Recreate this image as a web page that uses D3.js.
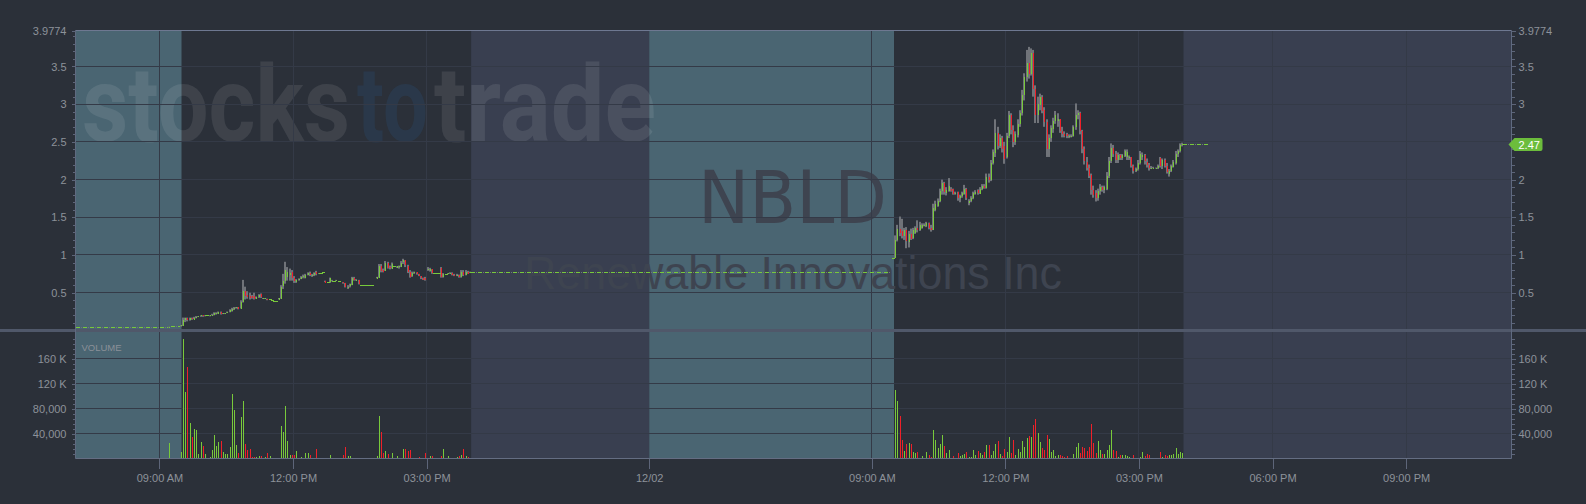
<!DOCTYPE html>
<html>
<head>
<meta charset="utf-8">
<script src="https://cdn.jsdelivr.net/npm/d3@7"></script>
<style>
	html, body {margin: 0; padding: 0; background: #2b3039; overflow: hidden;}
	svg {display: block;}
</style>
</head>
<body>
<svg id="chart" width="1586" height="504"></svg>
<script>
// time is kept in "trading hours": day 1 = clock hour - 4, day 2 = clock hour + 12
// (the overnight gap 8 PM - 4 AM is skipped)
const sessionEdges = [3.114, 5.5, 12, 16, 21.5, 28, 35.367]
const sessionKinds = ["pre", "reg", "post", "pre", "reg", "post"]
const sessionOpen = [5.5, 21.5]
const barHours = 0.05 // 3 minute bars

const timeTicks = [5, 8, 11, 16, 21, 24, 27, 30, 33]
const timeLabels = ["09:00 AM", "12:00 PM", "03:00 PM", "12/02", "09:00 AM", "12:00 PM", "03:00 PM", "06:00 PM", "09:00 PM"]

const priceTicks = [0.5, 1, 1.5, 2, 2.5, 3, 3.5, 3.9774]
const priceMax = 3.9774
const volumeTicks = [40000, 80000, 120000, 160000]
const volumeLabels = ["40,000", "80,000", "120 K", "160 K"]

const symbol = "NBLD"
const company = "Renewable Innovations Inc"
const brandParts = ["stocks", "to", "trade"]
const lastPrice = 2.47

// [bar index from 09:30, open, high, low, close, volume]
const day1Bars = [
	[-6, .045, .05, .045, .05, 24600], [-1, .05, .07, .05, .065, 10000],
	[0, .06, .17, .06, .14, 192000], [1, .14, .17, .11, .16, 107000], [2, .16, .17, .12, .13, 146000],
	[3, .13, .17, .13, .16, 56600], [4, .16, .17, .14, .15, 35000], [5, .15, .18, .15, .17, 47500],
	[6, .17, .19, .16, .18, 46000], [7, .18, .19, .18, .19, 7500], [8, .19, .20, .18, .20, 26000],
	[9, .20, .20, .18, .19, 20000], [10, .19, .20, .19, .20, 7500], [11, .20, .20, .20, .20, 0],
	[12, .19, .20, .19, .20, 3000], [13, .20, .22, .20, .21, 14000], [14, .21, .24, .20, .23, 38000],
	[15, .22, .24, .21, .23, 20000], [16, .22, .25, .22, .24, 26000], [17, .24, .25, .21, .22, 28000],
	[18, .22, .23, .22, .23, 11000], [19, .22, .23, .22, .23, 7500], [20, .23, .25, .23, .24, 7500],
	[21, .24, .28, .24, .27, 19000], [22, .27, .30, .25, .29, 103000], [23, .29, .31, .27, .30, 78000],
	[24, .30, .31, .29, .31, 22000], [25, .31, .31, .28, .29, 9000], [26, .29, .40, .29, .38, 67000],
	[27, .38, .67, .37, .52, 92000], [28, .52, .58, .41, .45, 23000], [29, .47, .52, .42, .44, 14000],
	[30, .46, .50, .41, .43, 15500], [31, .45, .47, .42, .43, 3000], [32, .46, .50, .41, .42, 2500],
	[33, .42, .45, .42, .44, 3000], [34, .44, .48, .43, .47, 4000], [35, .48, .49, .43, .44, 4000],
	[36, .43, .43, .42, .43, 0], [37, .42, .43, .42, .43, 3000], [38, .42, .42, .40, .41, 9000],
	[39, .41, .41, .41, .41, 4500], [40, .40, .40, .40, .40, 0], [41, .39, .39, .39, .39, 0],
	[42, .39, .39, .39, .39, 0], [43, .41, .43, .41, .43, 0], [44, .42, .60, .42, .58, 52000],
	[45, .58, .75, .55, .65, 42000], [46, .65, .91, .62, .80, 84000], [47, .72, .84, .66, .78, 28000],
	[48, .74, .82, .66, .76, 6000], [49, .78, .80, .66, .70, 6000], [50, .70, .72, .63, .66, 6000],
	[51, .64, .68, .63, .67, 12500], [52, .67, .69, .66, .68, 0], [53, .68, .72, .68, .71, 2500],
	[54, .71, .74, .69, .72, 0], [55, .70, .75, .69, .74, 9000], [56, .74, .77, .73, .76, 9000],
	[57, .76, .78, .72, .73, 6000], [58, .73, .75, .71, .73, 0], [59, .73, .77, .72, .76, 0],
	[60, .77, .79, .73, .74, 15500], [61, .75, .76, .75, .76, 0], [62, .76, .76, .76, .76, 0],
	[63, .77, .77, .77, .77, 0], [64, .66, .66, .64, .64, 0], [65, .64, .64, .64, .64, 0],
	[66, .64, .70, .63, .69, 6000], [67, .66, .67, .65, .66, 0], [68, .66, .66, .66, .66, 0],
	[69, .66, .67, .66, .67, 0], [70, .66, .66, .66, .66, 0], [72, .64, .64, .62, .63, 6000],
	[73, .63, .63, .57, .58, 19000], [74, .57, .60, .55, .58, 4000], [75, .58, .62, .57, .61, 4000],
	[76, .61, .71, .60, .70, 0], [77, .70, .71, .66, .67, 0], [78, .67, .68, .66, .67, 0],
	[79, .67, .67, .61, .62, 0], [80, .60, .60, .60, .60, 0], [81, .60, .60, .60, .60, 0],
	[82, .60, .60, .60, .60, 0], [83, .60, .60, .60, .60, 0], [84, .60, .60, .60, .60, 0],
	[85, .60, .60, .60, .60, 0], [87, .69, .71, .69, .71, 4000], [88, .70, .88, .70, .86, 68000],
	[89, .86, .88, .77, .80, 42000], [90, .80, .82, .77, .78, 9000], [91, .79, .92, .79, .90, 12500],
	[92, .90, .91, .82, .84, 7500], [93, .84, .86, .81, .83, 0], [94, .82, .90, .82, .88, 9000],
	[95, .86, .86, .86, .86, 0], [96, .83, .85, .83, .85, 4000], [97, .85, .86, .82, .85, 0],
	[98, .85, .92, .84, .90, 0], [99, .90, .95, .88, .93, 15500], [100, .93, .93, .84, .86, 15500],
	[101, .86, .87, .76, .78, 12500], [102, .78, .80, .70, .72, 14000], [103, .72, .78, .71, .76, 0],
	[104, .76, .78, .75, .77, 0], [105, .77, .77, .74, .75, 0], [106, .75, .75, .72, .73, 2500],
	[107, .72, .72, .68, .70, 0], [108, .70, .70, .67, .68, 0], [109, .70, .71, .66, .67, 9000],
	[110, .80, .84, .79, .81, 0], [111, .79, .83, .78, .81, 4000], [112, .81, .81, .75, .76, 4000],
	[113, .76, .76, .76, .76, 0], [114, .76, .76, .76, .76, 0], [115, .76, .76, .76, .76, 0],
	[116, .83, .84, .70, .71, 4000], [117, .71, .76, .70, .75, 15500], [118, .75, .75, .75, .75, 0],
	[119, .75, .76, .75, .76, 4000], [120, .76, .77, .75, .76, 0], [121, .76, .77, .73, .74, 0],
	[122, .74, .75, .72, .73, 0], [123, .73, .75, .72, .74, 2500], [124, .74, .74, .70, .71, 4000],
	[125, .71, .80, .70, .78, 6000], [126, .78, .80, .72, .74, 15500], [127, .74, .80, .73, .78, 4000],
	[128, .78, .79, .75, .76, 2500], [129, .77, .78, .76, .78, 0]
]

const day2Bars = [
	[-1, .96, .96, .96, .96, 0],
	[0, .96, 1.26, .96, 1.20, 110000], [1, 1.20, 1.40, 1.18, 1.35, 92000], [2, 1.35, 1.51, 1.25, 1.30, 68000],
	[3, 1.32, 1.48, 1.22, 1.25, 30000], [4, 1.25, 1.36, 1.20, 1.33, 12500], [5, 1.33, 1.37, 1.09, 1.18, 23000],
	[6, 1.18, 1.32, 1.10, 1.28, 25000], [7, 1.28, 1.35, 1.20, 1.22, 23000], [8, 1.22, 1.36, 1.21, 1.33, 11000],
	[9, 1.30, 1.38, 1.28, 1.36, 9000], [10, 1.36, 1.46, 1.30, 1.33, 11000], [11, 1.33, 1.44, 1.32, 1.40, 0],
	[12, 1.36, 1.42, 1.35, 1.40, 4000], [13, 1.40, 1.42, 1.38, 1.40, 0], [14, 1.38, 1.44, 1.37, 1.42, 11000],
	[15, 1.42, 1.43, 1.34, 1.36, 6000], [16, 1.36, 1.40, 1.31, 1.33, 3000], [17, 1.33, 1.68, 1.33, 1.62, 46000],
	[18, 1.60, 1.72, 1.58, 1.68, 30000], [19, 1.66, 1.75, 1.64, 1.72, 17000], [20, 1.72, 1.88, 1.70, 1.85, 23000],
	[21, 1.85, 2.00, 1.80, 1.95, 38000], [22, 1.95, 1.97, 1.80, 1.83, 20000], [23, 1.82, 1.90, 1.79, 1.86, 9000],
	[24, 1.86, 2.02, 1.84, 1.92, 14000], [25, 1.88, 1.90, 1.84, 1.86, 0], [26, 1.88, 1.88, 1.80, 1.82, 4000],
	[27, 1.82, 1.84, 1.80, 1.82, 0], [28, 1.83, 1.84, 1.72, 1.75, 9000], [29, 1.75, 1.80, 1.70, 1.78, 4000],
	[30, 1.78, 1.84, 1.76, 1.82, 6000], [31, 1.82, 1.93, 1.80, 1.88, 7500], [32, 1.88, 1.89, 1.73, 1.76, 11000],
	[33, 1.70, 1.74, 1.66, 1.72, 3000], [34, 1.72, 1.78, 1.70, 1.76, 3000], [35, 1.76, 1.84, 1.74, 1.82, 14000],
	[36, 1.82, 1.86, 1.80, 1.84, 6000], [37, 1.86, 1.87, 1.80, 1.82, 12500], [38, 1.82, 1.90, 1.81, 1.88, 9000],
	[39, 1.88, 1.94, 1.86, 1.92, 6000], [40, 1.92, 1.94, 1.88, 1.90, 11000], [41, 1.90, 2.08, 1.88, 2.04, 22000],
	[42, 2.04, 2.08, 1.96, 2.00, 22000], [43, 2.00, 2.26, 1.98, 2.22, 6000], [44, 2.22, 2.40, 2.20, 2.36, 12500],
	[45, 2.36, 2.80, 2.30, 2.62, 23000], [46, 2.62, 2.70, 2.40, 2.45, 28000], [47, 2.45, 2.60, 2.42, 2.55, 7500],
	[48, 2.55, 2.58, 2.36, 2.40, 4000], [49, 2.45, 2.50, 2.21, 2.28, 15500], [50, 2.30, 2.62, 2.28, 2.58, 11000],
	[51, 2.58, 2.91, 2.55, 2.86, 35000], [52, 2.86, 2.88, 2.60, 2.66, 9000], [53, 2.66, 2.72, 2.43, 2.50, 30000],
	[54, 2.50, 2.64, 2.46, 2.60, 6000], [55, 2.60, 2.80, 2.56, 2.74, 15500], [56, 2.74, 2.92, 2.70, 2.88, 11000],
	[57, 2.88, 3.19, 2.85, 3.12, 28000], [58, 3.12, 3.41, 3.05, 3.36, 19000], [59, 3.36, 3.72, 3.30, 3.55, 33000],
	[60, 3.55, 3.76, 3.34, 3.40, 36000], [61, 3.40, 3.74, 3.38, 3.68, 35000], [62, 3.68, 3.72, 3.10, 3.20, 54000],
	[63, 3.20, 3.25, 2.75, 2.86, 63000], [64, 2.86, 3.10, 2.75, 3.00, 41000], [65, 3.00, 3.14, 2.92, 3.10, 26000],
	[66, 3.10, 3.12, 2.88, 2.92, 17000], [67, 2.92, 2.96, 2.70, 2.76, 14000], [68, 2.76, 2.80, 2.30, 2.40, 38000],
	[69, 2.40, 2.60, 2.30, 2.55, 31000], [70, 2.55, 2.72, 2.50, 2.68, 11000], [71, 2.68, 2.82, 2.62, 2.78, 14000],
	[72, 2.78, 2.91, 2.74, 2.86, 4000], [73, 2.78, 2.88, 2.70, 2.80, 6000], [74, 2.80, 2.80, 2.62, 2.64, 6000],
	[75, 2.64, 2.70, 2.56, 2.60, 4000], [76, 2.60, 2.64, 2.56, 2.58, 3000], [77, 2.60, 2.62, 2.55, 2.57, 4000],
	[78, 2.57, 2.60, 2.55, 2.58, 0], [79, 2.58, 2.60, 2.56, 2.58, 0], [80, 2.58, 2.72, 2.57, 2.70, 7500],
	[81, 2.70, 3.01, 2.66, 2.86, 19000], [82, 2.86, 2.92, 2.80, 2.88, 25000], [83, 2.88, 2.90, 2.60, 2.64, 9000],
	[84, 2.64, 2.66, 2.35, 2.40, 19000], [85, 2.40, 2.44, 2.20, 2.24, 17000], [86, 2.24, 2.30, 2.12, 2.16, 12500],
	[87, 2.16, 2.20, 2.02, 2.06, 19000], [88, 2.06, 2.08, 1.80, 1.86, 55000], [89, 1.86, 1.92, 1.76, 1.80, 25000],
	[90, 1.82, 1.86, 1.71, 1.76, 9000], [91, 1.76, 1.88, 1.72, 1.85, 28000], [92, 1.85, 1.94, 1.80, 1.90, 14000],
	[93, 1.90, 1.92, 1.84, 1.86, 7500], [94, 1.86, 1.92, 1.82, 1.90, 7500], [95, 1.88, 2.10, 1.86, 2.05, 14000],
	[96, 2.05, 2.30, 2.02, 2.25, 22000], [97, 2.25, 2.48, 2.22, 2.42, 46000], [98, 2.42, 2.46, 2.30, 2.34, 14000],
	[99, 2.34, 2.38, 2.22, 2.26, 12500], [100, 2.26, 2.36, 2.22, 2.32, 3000], [101, 2.32, 2.34, 2.26, 2.28, 6000],
	[102, 2.28, 2.34, 2.26, 2.32, 6000], [103, 2.32, 2.40, 2.30, 2.38, 6000], [104, 2.30, 2.40, 2.26, 2.36, 4000],
	[105, 2.30, 2.32, 2.26, 2.30, 3000], [106, 2.30, 2.30, 2.16, 2.18, 0], [107, 2.18, 2.20, 2.08, 2.12, 6000],
	[108, 2.12, 2.16, 2.10, 2.14, 0], [109, 2.14, 2.26, 2.12, 2.22, 0], [110, 2.22, 2.38, 2.20, 2.34, 3000],
	[111, 2.30, 2.36, 2.26, 2.32, 11000], [112, 2.32, 2.34, 2.20, 2.24, 4000], [113, 2.24, 2.28, 2.16, 2.20, 7500],
	[114, 2.20, 2.22, 2.12, 2.16, 6000], [115, 2.16, 2.18, 2.14, 2.16, 0], [116, 2.16, 2.17, 2.15, 2.16, 0],
	[117, 2.16, 2.16, 2.15, 2.16, 0], [118, 2.15, 2.20, 2.14, 2.18, 0], [119, 2.28, 2.30, 2.16, 2.18, 11000],
	[120, 2.18, 2.28, 2.14, 2.26, 3000], [121, 2.26, 2.28, 2.16, 2.18, 6000], [122, 2.18, 2.22, 2.08, 2.10, 4000],
	[123, 2.08, 2.14, 2.04, 2.12, 6000], [124, 2.12, 2.20, 2.10, 2.18, 6000], [125, 2.18, 2.26, 2.16, 2.24, 7500],
	[126, 2.22, 2.38, 2.20, 2.34, 17000], [127, 2.34, 2.40, 2.30, 2.38, 7500], [128, 2.38, 2.48, 2.36, 2.46, 11000],
	[129, 2.46, 2.49, 2.44, 2.47, 9000]
]

// quiet stretches with single-price prints: [from, to, price]
const flatRuns = [[3.114, 5.2, 0.045], [5.25, 5.45, 0.055], [12, 21.4, 0.78], [28, 28.57, 2.47]]


let body = d3.select("#chart")

//chart area
let left = 75.5, right = 1511.5
let priceTop = 30.5, priceBottom = 329
let volTop = 332, volBottom = 458.5
let tickFont = "'Liberation Sans', Arial, sans-serif"
let green = "#78c93b", red = "#ef2029", wick = "#707379"

let xscale = d3.scaleLinear()
	.domain([sessionEdges[0], sessionEdges[sessionEdges.length - 1]])
	.range([left, right])

let yscale = d3.scaleLinear()
	.domain([0, priceMax])
	.range([330.4, priceTop])

let vscale = d3.scaleLinear()
	.domain([0, 202700])
	.range([458.7, volTop])

function toBars(rows, open) {
	return rows.map(r => ({t: open + r[0] * barHours, o: r[1], h: r[2], l: r[3], c: r[4], v: r[5]}))
}
let bars = toBars(day1Bars, sessionOpen[0]).concat(toBars(day2Bars, sessionOpen[1]))
bars.forEach(d => { d.cx = xscale(d.t + barHours / 2); d.up = d.c >= d.o })

//session backgrounds
let sessionFill = {pre: "#4a6572", reg: "#2b3039", post: "#393f50"}
body.append("g").selectAll("rect")
	.data(sessionKinds)
	.enter()
	.append("rect")
	.attr("x", (d, i) => xscale(sessionEdges[i]))
	.attr("width", (d, i) => xscale(sessionEdges[i + 1]) - xscale(sessionEdges[i]))
	.attr("y", priceTop)
	.attr("height", volBottom - priceTop)
	.attr("fill", d => sessionFill[d])

//watermarks, squeezed sideways with a transform so the boxes stay true
function squeeze(sel, x, y, width) {
	let natural = sel.node().getComputedTextLength()
	sel.attr("transform", "translate(" + x + "," + y + ") scale(" + (width / natural) + ",1)")
}

let brandX = [82, 357, 434], brandW = [268, 71, 222]
let brandFill = ["rgba(255,255,255,0.09)", "rgba(40,100,160,0.17)", "rgba(255,255,255,0.09)"]
brandParts.forEach((part, i) => {
	let t = body.append("text")
		.attr("fill", brandFill[i])
		.style("font-family", "Roboto, 'Open Sans', sans-serif")
		.style("font-weight", "700")
		.style("font-size", "106px")
		.text(part)
	squeeze(t, brandX[i], 141, brandW[i])
})

let sym = body.append("text")
	.attr("fill", "#3e4450")
	.style("font-family", "'DejaVu Sans', sans-serif")
	.style("font-size", "73px")
	.text(symbol)
squeeze(sym, 698, 222.5, 189)

let comp = body.append("text")
	.attr("fill", "#3e4450")
	.style("font-family", tickFont)
	.style("font-size", "47px")
	.text(company)
squeeze(comp, 524, 289, 538)

//grid lines
let grid = body.append("g")
	.attr("stroke", "#343a47")
	.attr("shape-rendering", "crispEdges")
grid.selectAll(".hp")
	.data(priceTicks.slice(0, -1))
	.enter()
	.append("line")
	.attr("x1", left).attr("x2", right)
	.attr("y1", d => yscale(d)).attr("y2", d => yscale(d))
grid.selectAll(".hv")
	.data(volumeTicks)
	.enter()
	.append("line")
	.attr("x1", left).attr("x2", right)
	.attr("y1", d => vscale(d)).attr("y2", d => vscale(d))
grid.selectAll(".vt")
	.data(timeTicks.filter((d, i) => timeLabels[i].indexOf("/") < 0))
	.enter()
	.append("line")
	.attr("x1", d => xscale(d)).attr("x2", d => xscale(d))
	.attr("y1", priceTop).attr("y2", volBottom)

//clip for the price panel
body.append("clipPath").attr("id", "priceClip")
	.append("rect")
	.attr("x", left).attr("y", priceTop)
	.attr("width", right - left).attr("height", priceBottom - priceTop)

let pricePanel = body.append("g").attr("clip-path", "url(#priceClip)")

//flat prints, green dashes with a grey dot between them
pricePanel.selectAll(".flatGreen")
	.data(flatRuns)
	.enter()
	.append("line")
	.attr("x1", d => Math.round(xscale(d[0]))).attr("x2", d => Math.round(xscale(d[1])))
	.attr("y1", d => Math.round(yscale(d[2])) + 0.5).attr("y2", d => Math.round(yscale(d[2])) + 0.5)
	.attr("stroke", green)
	.attr("stroke-dasharray", "4,3")
	.attr("shape-rendering", "crispEdges")
pricePanel.selectAll(".flatGrey")
	.data(flatRuns)
	.enter()
	.append("line")
	.attr("x1", d => Math.round(xscale(d[0]))).attr("x2", d => Math.round(xscale(d[1])))
	.attr("y1", d => Math.round(yscale(d[2])) + 0.5).attr("y2", d => Math.round(yscale(d[2])) + 0.5)
	.attr("stroke", "#70757b")
	.attr("stroke-dasharray", "1,6")
	.attr("stroke-dashoffset", -5)
	.attr("shape-rendering", "crispEdges")

//candles: grey high-low bar with a thin coloured open-close line
pricePanel.append("g").selectAll("rect")
	.data(bars.filter(d => d.h > d.l))
	.enter()
	.append("rect")
	.attr("x", d => Math.round(d.cx) - 1)
	.attr("width", 2)
	.attr("y", d => yscale(d.h))
	.attr("height", d => Math.max(1, yscale(d.l) - yscale(d.h)))
	.attr("fill", wick)
pricePanel.append("g").selectAll("rect")
	.data(bars)
	.enter()
	.append("rect")
	.attr("x", d => d.h > d.l ? Math.round(d.cx) : Math.round(d.cx) - 1)
	.attr("width", d => d.h > d.l ? 1 : 3)
	.attr("y", d => Math.round(yscale(Math.max(d.o, d.c))))
	.attr("height", d => Math.max(1, yscale(Math.min(d.o, d.c)) - yscale(Math.max(d.o, d.c))))
	.attr("fill", d => d.up ? green : red)
	.attr("shape-rendering", "crispEdges")

//volume bars
body.append("g").selectAll("rect")
	.data(bars.filter(d => d.v > 0))
	.enter()
	.append("rect")
	.attr("x", d => Math.round(d.cx))
	.attr("width", 1)
	.attr("y", d => vscale(d.v))
	.attr("height", d => vscale(0) - vscale(d.v))
	.attr("fill", d => d.up ? green : red)
	.attr("shape-rendering", "crispEdges")

body.append("text")
	.attr("x", 81.5)
	.attr("y", 350.5)
	.attr("fill", "#8a9098")
	.style("font-family", tickFont)
	.style("font-size", "9.5px")
	.text("VOLUME")

//panel borders and separator
body.append("rect").attr("x", 0).attr("y", 329).attr("width", 1586).attr("height", 3).attr("fill", "#50586a")
body.append("line").attr("x1", left).attr("x2", right).attr("y1", priceTop).attr("y2", priceTop)
	.attr("stroke", "#6e7891")
body.append("line").attr("x1", left).attr("x2", right).attr("y1", volBottom).attr("y2", volBottom)
	.attr("stroke", "#646d82")
body.append("line").attr("x1", left).attr("x2", left).attr("y1", priceTop).attr("y2", volBottom)
	.attr("stroke", "#5f6a80")
body.append("line").attr("x1", right).attr("x2", right).attr("y1", priceTop).attr("y2", volBottom)
	.attr("stroke", "#5f6a80")

//axes
function styleAxis(g) {
	g.select(".domain").remove()
	g.selectAll("line").attr("stroke", "#5d6579").attr("shape-rendering", "crispEdges")
	g.selectAll("text").attr("fill", "#8d929a").style("font-family", tickFont).style("font-size", "11px")
}

let priceMinor = d3.range(1, 40).map(d => d / 10).filter(d => d % 0.5 > 0.01 && d % 0.5 < 0.49)
let volumeMinor = d3.range(1, 26).map(d => d * 8000).filter(d => d % 40000 != 0)
let priceLabel = d => d == priceMax ? "3.9774" : d

// the last price badge covers the nearest label on the right axis
let hiddenRight = priceTicks.filter(d => Math.abs(yscale(d) - yscale(lastPrice)) < 8)
let rightLabel = d => hiddenRight.indexOf(d) >= 0 ? "" : priceLabel(d)

body.append("g").attr("transform", "translate(" + left + ",0)")
	.call(d3.axisLeft(yscale).tickValues(priceMinor).tickSize(3).tickFormat(""))
	.call(styleAxis)
body.append("g").attr("transform", "translate(" + left + ",0)")
	.call(d3.axisLeft(yscale).tickValues(priceTicks).tickSize(4).tickPadding(5).tickFormat(priceLabel))
	.call(styleAxis)
body.append("g").attr("transform", "translate(" + right + ",0)")
	.call(d3.axisRight(yscale).tickValues(priceMinor).tickSize(3).tickFormat(""))
	.call(styleAxis)
body.append("g").attr("transform", "translate(" + right + ",0)")
	.call(d3.axisRight(yscale).tickValues(priceTicks).tickSize(4).tickPadding(3).tickFormat(rightLabel))
	.call(styleAxis)

body.append("g").attr("transform", "translate(" + left + ",0)")
	.call(d3.axisLeft(vscale).tickValues(volumeMinor).tickSize(3).tickFormat(""))
	.call(styleAxis)
body.append("g").attr("transform", "translate(" + left + ",0)")
	.call(d3.axisLeft(vscale).tickValues(volumeTicks).tickSize(4).tickPadding(5).tickFormat((d, i) => volumeLabels[i]))
	.call(styleAxis)
body.append("g").attr("transform", "translate(" + right + ",0)")
	.call(d3.axisRight(vscale).tickValues(volumeMinor).tickSize(3).tickFormat(""))
	.call(styleAxis)
body.append("g").attr("transform", "translate(" + right + ",0)")
	.call(d3.axisRight(vscale).tickValues(volumeTicks).tickSize(4).tickPadding(3).tickFormat((d, i) => volumeLabels[i]))
	.call(styleAxis)

body.append("g").attr("transform", "translate(0," + volBottom + ")")
	.call(d3.axisBottom(xscale).tickValues(timeTicks).tickSize(10).tickPadding(6).tickFormat((d, i) => timeLabels[i]))
	.call(styleAxis)

//last price badge
let ly = Math.round(yscale(lastPrice)) + 0.5
body.append("path")
	.attr("d", "M" + (right - 3) + "," + ly + "L" + (right + 3) + "," + (ly - 6.5) + "H" + (right + 29) +
		"Q" + (right + 31) + "," + (ly - 6.5) + " " + (right + 31) + "," + (ly - 4.5) + "V" + (ly + 4.5) +
		"Q" + (right + 31) + "," + (ly + 6.5) + " " + (right + 29) + "," + (ly + 6.5) + "H" + (right + 3) + "Z")
	.attr("fill", "#6cbd3c")
body.append("text")
	.attr("x", right + 7)
	.attr("y", ly + 4)
	.attr("fill", "#ffffff")
	.style("font-family", tickFont)
	.style("font-size", "11px")
	.text(lastPrice)
</script>
</body>
</html>
